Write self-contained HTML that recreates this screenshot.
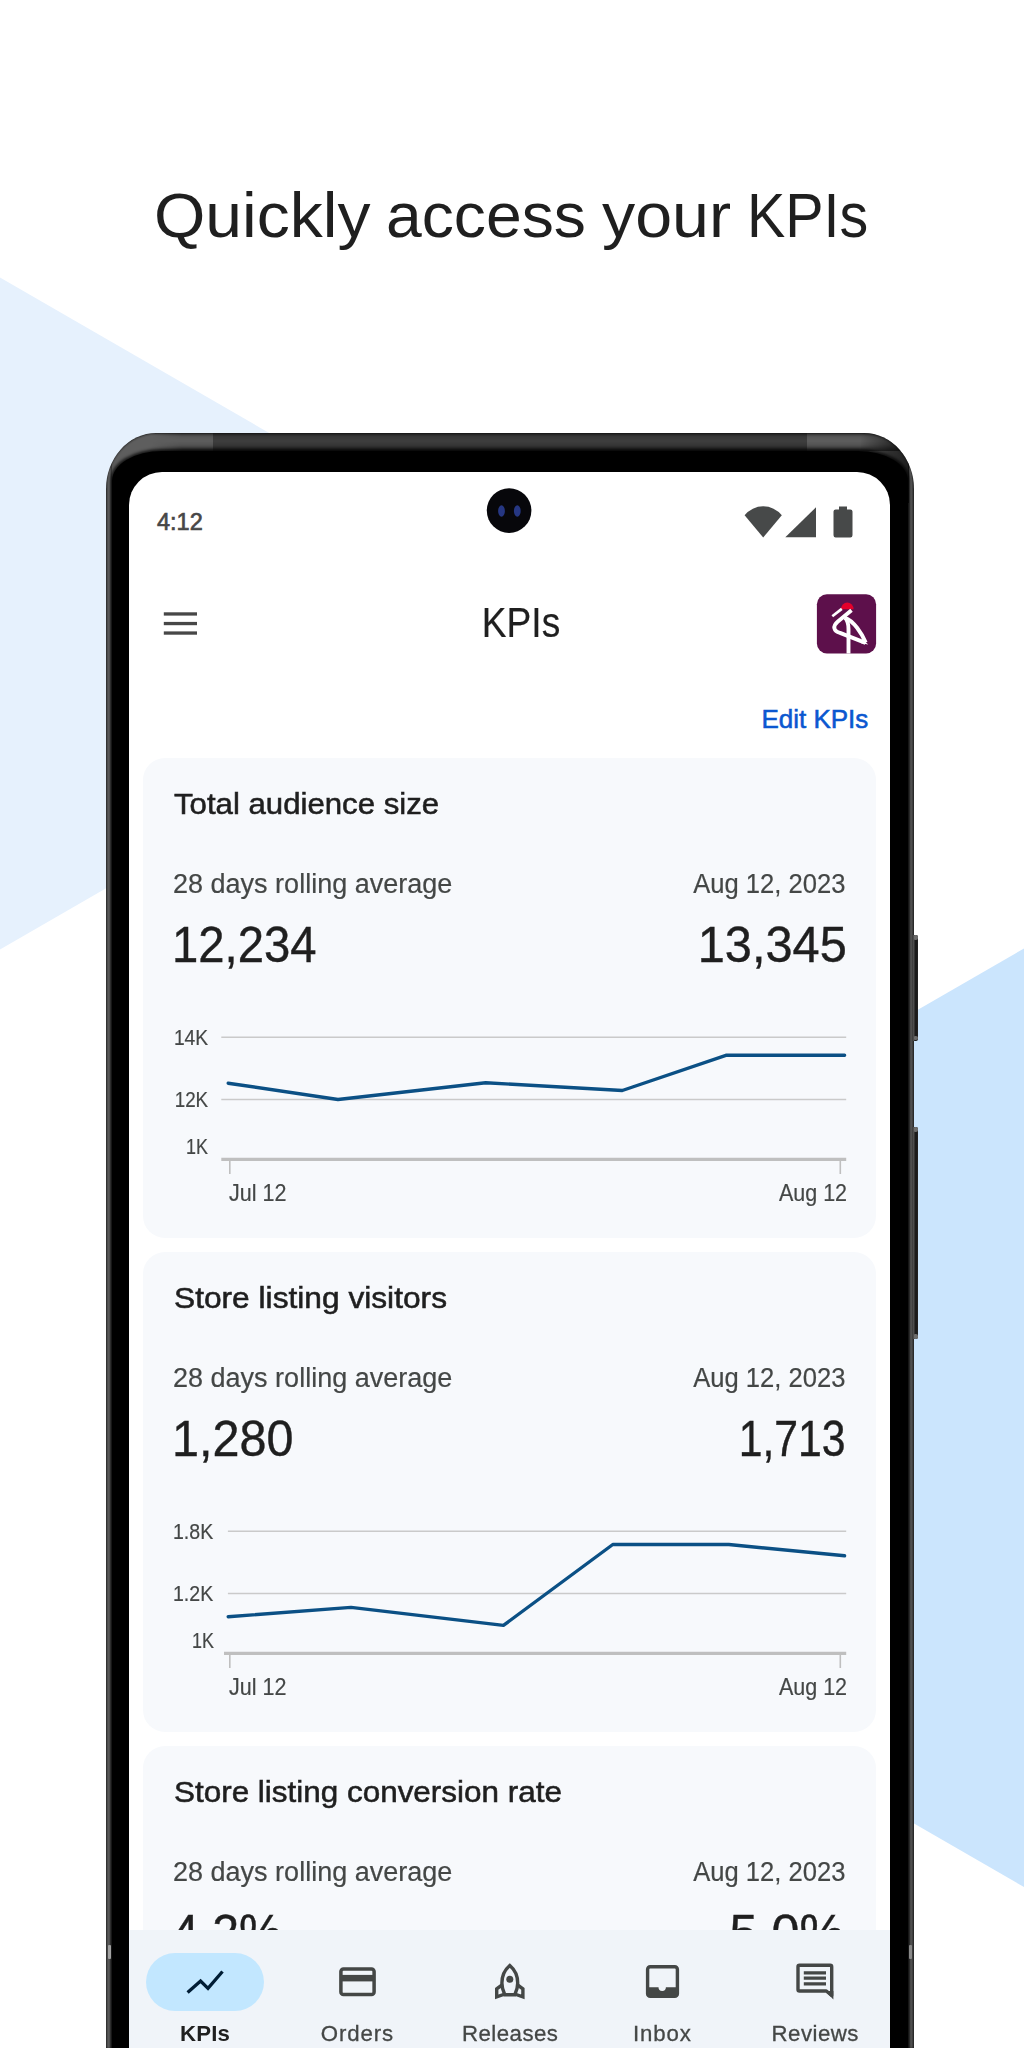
<!DOCTYPE html>
<html lang="en">
<head>
<meta charset="utf-8">
<title>Quickly access your KPIs</title>
<style>
html,body{margin:0;padding:0;}
html{width:1024px;height:2048px;overflow:hidden;}
body{width:1024px;height:2048px;position:relative;overflow:hidden;background:#fff;
  font-family:"Liberation Sans",sans-serif;color:#1f1f1f;}
.abs{position:absolute;}
.t{position:absolute;white-space:nowrap;line-height:1;transform-origin:0 0;}
.tr{position:absolute;white-space:nowrap;line-height:1;transform-origin:100% 0;text-align:right;}
.tc{position:absolute;white-space:nowrap;line-height:1;transform-origin:50% 0;text-align:center;}
#bg{position:absolute;left:0;top:0;}
/* phone */
#frame{position:absolute;left:105.8px;top:433px;width:808px;height:1615px;border-radius:50px 50px 0 0 / 56px 56px 0 0;overflow:hidden;background:linear-gradient(90deg,#3a3a3a 0,#565656 1.5px,#707070 3.2px,#585858 4.6px,#2c2c2c 6.4px,#5e5e5e 6.5px,#5e5e5e 801.5px,#2c2c2c 801.6px,#4a4a4a 803.2px,#686868 804.8px,#4c4c4c 806.2px,#303030 808px);}
#frame .seg{position:absolute;top:0;height:18px;left:107px;width:594px;background:rgba(30,30,30,.5);}
#frame .vg{position:absolute;left:46px;top:0;right:0;height:18px;-webkit-mask-image:linear-gradient(90deg,transparent 0,#000 30px);mask-image:linear-gradient(90deg,transparent 0,#000 30px);background:linear-gradient(180deg,rgba(0,0,0,.4) 0,rgba(0,0,0,.08) 4px,rgba(0,0,0,0) 8px,rgba(0,0,0,.12) 12px,rgba(0,0,0,.5) 17.5px);}
#frame .rc{position:absolute;right:5px;top:0;width:48px;height:70px;background:linear-gradient(100deg,rgba(0,0,0,0) 0,rgba(0,0,0,.5) 55%,rgba(0,0,0,.7) 100%);}
#frame .shade{position:absolute;left:0;top:0;width:100%;height:100%;border-radius:50px 50px 0 0 / 56px 56px 0 0;box-shadow:inset 0 0.5px 2px 0.3px rgba(10,10,10,.7);}
#bezel{position:absolute;left:112px;top:450.6px;width:795.7px;height:1597.4px;border-radius:50px 50px 0 0 / 30px 30px 0 0;background:#000;box-shadow:0 0 3px 1.5px rgba(0,0,0,.75);}
#screen{position:absolute;left:129px;top:472px;width:761.4px;height:1576px;border-radius:33px 33px 0 0;background:#fff;overflow:hidden;}
.btn{position:absolute;left:913.2px;width:4.9px;border-radius:0 2px 2px 0;background:linear-gradient(90deg,#5a5a5a 0,#3a3a3a 25%,#161616 55%,#242424 100%);}
.btn:before,.btn:after{content:"";position:absolute;left:0.5px;width:4.4px;height:4.5px;background:#6c6c6c;border-radius:1px 2px 2px 1px;}
.btn:before{top:0.5px;}
.btn:after{bottom:0.5px;}
.ant{position:absolute;top:1945px;width:3px;height:14px;background:#a2a2a2;border-radius:1px;}
/* cards */
.card{position:absolute;width:732.8px;height:479.4px;border-radius:22px;background:#f7f9fc;}
.sub{color:#444746;}
#nav{position:absolute;width:761.4px;height:118.5px;background:#f0f4f9;}
.lbl{color:#444746;}
.ax{font-size:22px;color:#444746;-webkit-text-stroke:0.2px currentColor;}
.ax2{font-size:24px;color:#444746;-webkit-text-stroke:0.2px currentColor;}
.nl{width:200px;top:2022.7px;font-size:21.8px;color:#444746;letter-spacing:.85px;text-indent:.85px;-webkit-text-stroke:0.3px currentColor;transform:scaleX(1.02);}
.med{-webkit-text-stroke:0.55px currentColor;}
.sub{-webkit-text-stroke:0.2px currentColor;}
.big{-webkit-text-stroke:0.4px currentColor;}
</style>
</head>
<body>
<svg id="bg" width="1024" height="2048" viewBox="0 0 1024 2048">
  <polygon points="0,277.5 582,613.5 0,949.5" fill="#e6f1fd"/>
  <polygon points="1024,948.5 211,1417.7 1024,1887" fill="#cbe5fd"/>
</svg>

<div id="headline" style="position:absolute;left:0;top:183.7px;width:1024px;height:64px;font-size:63.5px;">
  <span class="t" style="left:154.15px;top:0;transform:scaleX(1.04);">Quickly</span>
  <span class="t" style="left:386.25px;top:0;transform:scaleX(1.012);">access</span>
  <span class="t" style="left:602.3px;top:0;transform:scaleX(1.045);">your</span>
  <span class="t" style="left:747.1px;top:0;transform:scaleX(.904);">KPIs</span>
</div>

<div id="frame"><div class="seg"></div><div class="vg"></div><div class="rc"></div><div class="shade"></div></div>
<div id="bezel"></div>
<div class="btn" style="top:934.5px;height:106px;"></div>
<div class="ant" style="left:108.3px;"></div>
<div class="ant" style="left:908.6px;background:#8a8a8a;"></div>
<div class="btn" style="top:1126.5px;height:212.5px;"></div>

<div id="screen">
<div id="pg" style="position:absolute;left:-129px;top:-472px;width:1024px;height:2048px;">
  <!-- status bar -->
  <div class="t med" id="time" style="left:157px;top:510.6px;font-size:23.5px;color:#474747;-webkit-text-stroke:0.65px currentColor;">4:12</div>
  <svg class="abs" style="left:480px;top:482px;" width="58" height="58" viewBox="0 0 58 58">
    <circle cx="29.1" cy="28.6" r="22.3" fill="#07070b"/>
    <ellipse cx="21.5" cy="29" rx="3.4" ry="5.8" fill="#263783" style="filter:blur(.7px)"/>
    <ellipse cx="37.3" cy="29" rx="3.4" ry="5.8" fill="#263783" style="filter:blur(.7px)"/>
  </svg>
  <svg class="abs" id="status" style="left:740px;top:500px;" width="120" height="44" viewBox="740 500 120 44">
    <path d="M744.6 515.2 A24 24 0 0 1 781.8 515.2 L763.2 537.4 Z" fill="#474949"/>
    <path d="M816 507.3 L816 537.3 L785.3 537.3 Z" fill="#474949"/>
    <path d="M839 506.4 h8 v3 h3.3 a2.2 2.2 0 0 1 2.2 2.2 v23.6 a2.2 2.2 0 0 1 -2.2 2.2 h-14.600 a2.200 2.200 0 0 1 -2.200 -2.200 v-23.600 a2.200 2.200 0 0 1 2.200 -2.200 h3.300 z" fill="#474949"/>
  </svg>
  <!-- app bar -->
  <svg class="abs" style="left:160px;top:608px;" width="42" height="32" viewBox="160 608 42 32">
    <rect x="163.800" y="612.300" width="33.200" height="3.300" fill="#474747"/>
    <rect x="163.800" y="621.900" width="33.200" height="3.300" fill="#474747"/>
    <rect x="163.800" y="631.400" width="33.200" height="3.300" fill="#474747"/>
  </svg>
  <div class="tc" id="title" style="left:421px;width:200px;top:602.1px;font-size:42px;transform:scaleX(.884);-webkit-text-stroke:0.2px currentColor;">KPIs</div>
  <svg class="abs" id="appicon" style="left:810px;top:588px;" width="72" height="72" viewBox="810 588 72 72">
    <rect x="816.900" y="594.200" width="59.200" height="59.200" rx="10" fill="#5d104b"/>
    <path d="M841 609.300 A6.300 6.900 0 0 1 853.600 609.300 Z" fill="#e4002b"/>
    <g stroke="#fff" stroke-width="3.900" fill="none" stroke-linejoin="round">
      <path d="M832.300 616.200 L841.800 608.900" stroke-width="2.700"/>
      <path d="M851.500 610.200 L837.600 621.700 C832.300 626.200 833.600 631.300 840 632.900 L865.500 642.900"/>
      <path d="M845 617.800 C853.500 620.500 861.800 633.500 865.700 642.600"/>
      <path d="M848.500 653.400 L848.500 629 C848.500 624 847.500 620.500 845 617.800"/>
    </g>
    <path d="M862.500 639 L868.200 644.600 L861 643.200 Z" fill="#fff"/>
  </svg>
  <div class="tr med" id="edit" style="right:155.700px;top:706.200px;font-size:26px;color:#0b57d0;">Edit KPIs</div>

  <!-- card 1 -->
  <div class="card" style="left:143.400px;top:758.400px;"></div>
  <div class="t med" style="left:174.2px;top:789.4px;font-size:29.8px;transform:scaleX(1.046);">Total audience size</div>
  <div class="t sub" style="left:172.9px;top:870.9px;font-size:26.8px;transform:scaleX(1.008);">28 days rolling average</div>
  <div class="tr sub" style="right:178.2px;top:870.9px;font-size:26.8px;transform:scaleX(.955);">Aug 12, 2023</div>
  <div class="t big" style="left:172.2px;top:919.9px;font-size:50.6px;transform:scaleX(.934);">12,234</div>
  <div class="tr big" style="right:177px;top:919.9px;font-size:50.6px;transform:scaleX(.963);">13,345</div>

  <!-- card 2 -->
  <div class="card" style="left:143.400px;top:1252.400px;"></div>
  <div class="t med" style="left:174.2px;top:1283.4px;font-size:29.8px;transform:scaleX(1.0636);">Store listing visitors</div>
  <div class="t sub" style="left:172.9px;top:1364.9px;font-size:26.8px;transform:scaleX(1.008);">28 days rolling average</div>
  <div class="tr sub" style="right:178.2px;top:1364.9px;font-size:26.8px;transform:scaleX(.955);">Aug 12, 2023</div>
  <div class="t big" style="left:172.2px;top:1413.9px;font-size:50.6px;transform:scaleX(.959);">1,280</div>
  <div class="tr big" style="right:178px;top:1413.9px;font-size:50.6px;transform:scaleX(.8445);">1,713</div>

  <!-- card 3 -->
  <div class="card" style="left:143.400px;top:1746.400px;"></div>
  <div class="t med" style="left:174.2px;top:1777.4px;font-size:29.8px;transform:scaleX(1.055);">Store listing conversion rate</div>
  <div class="t sub" style="left:172.9px;top:1858.9px;font-size:26.8px;transform:scaleX(1.008);">28 days rolling average</div>
  <div class="tr sub" style="right:178.2px;top:1858.9px;font-size:26.8px;transform:scaleX(.955);">Aug 12, 2023</div>
  <div class="t big" style="left:172.2px;top:1907.9px;font-size:50.6px;transform:scaleX(.953);">4.2%</div>
  <div class="tr big" style="right:179.7px;top:1907.9px;font-size:50.6px;transform:scaleX(.996);">5.0%</div>

  <svg class="abs" style="left:140px;top:1020px;" width="740" height="170" viewBox="140 1020 740 170">
    <path d="M221.3 1037.3H846.2M221.3 1099.5H846.2" stroke="#cacaca" stroke-width="1.6" fill="none"/>
    <path d="M221.3 1159.3H846.2" stroke="#bfbfbf" stroke-width="3.2" fill="none"/>
    <path d="M229.8 1160.0V1174.0M840.3 1160.0V1174.0" stroke="#bfbfbf" stroke-width="1.6" fill="none"/>
    <polyline points="228.2,1083.2 338.0,1099.5 485.7,1082.7 622.3,1090.5 725.9,1055.3 844.6,1055.3" stroke="#0b5085" stroke-width="3.4" fill="none" stroke-linejoin="round" stroke-linecap="round"/>
  </svg>
  <div class="tr ax" style="right:816.3px;top:1027.2px;transform:scaleX(.875);">14K</div>
  <div class="tr ax" style="right:816.3px;top:1089.0px;transform:scaleX(.855);">12K</div>
  <div class="tr ax" style="right:816.3px;top:1136.3px;transform:scaleX(.815);">1K</div>
  <div class="t ax2" style="left:229.3px;top:1181.0px;transform:scaleX(.896);">Jul 12</div>
  <div class="tr ax2" style="right:177px;top:1181.0px;transform:scaleX(.896);">Aug 12</div>
  <svg class="abs" style="left:140px;top:1514px;" width="740" height="170" viewBox="140 1514 740 170">
    <path d="M227.9 1531.3H846.2M227.9 1593.5H846.2" stroke="#cacaca" stroke-width="1.6" fill="none"/>
    <path d="M224 1653.3H846.2" stroke="#bfbfbf" stroke-width="3.2" fill="none"/>
    <path d="M229.8 1654.0V1668.0M840.3 1654.0V1668.0" stroke="#bfbfbf" stroke-width="1.6" fill="none"/>
    <polyline points="228.2,1616.7 351.0,1607.4 503.4,1625.4 612.8,1544.5 728.8,1544.5 844.6,1555.8" stroke="#0b5085" stroke-width="3.4" fill="none" stroke-linejoin="round" stroke-linecap="round"/>
  </svg>
  <div class="tr ax" style="right:810.4px;top:1521.2px;transform:scaleX(.89);">1.8K</div>
  <div class="tr ax" style="right:810.4px;top:1583.0px;transform:scaleX(.89);">1.2K</div>
  <div class="tr ax" style="right:810.4px;top:1630.3px;transform:scaleX(.815);">1K</div>
  <div class="t ax2" style="left:229.3px;top:1675.0px;transform:scaleX(.896);">Jul 12</div>
  <div class="tr ax2" style="right:177px;top:1675.0px;transform:scaleX(.896);">Aug 12</div>
  <div id="nav" style="left:129px;top:1929.5px;"></div>
  <div class="abs" style="left:145.9px;top:1952.8px;width:118.1px;height:58.7px;border-radius:30px;background:#c2e7ff;"></div>
  <svg class="abs" style="left:129px;top:1950px;" width="762" height="60" viewBox="129 1950 762 60" fill="none">
    <polyline points="187.6,1992.6 200.6,1981 208,1988.3 222.5,1971.5" stroke="#001d35" stroke-width="3.3" stroke-linecap="butt" stroke-linejoin="miter"/>
    <g stroke="#444746" stroke-width="3.5">
      <rect x="340.9" y="1968.9" width="33.2" height="25.7" rx="2.6"/>
    </g>
    <rect x="340" y="1974.9" width="35" height="6.5" fill="#444746"/>
    <!-- rocket -->
    <g stroke="#444746" stroke-width="3.4" stroke-linejoin="miter">
      <path d="M509.800 1965.500 C504.500 1970 501.900 1976.500 501.900 1983 C501.900 1987.500 503.200 1991.500 504.800 1994.800 L514.800 1994.800 C516.400 1991.500 517.700 1987.500 517.700 1983 C517.700 1976.500 515.100 1970 509.800 1965.500 Z"/>
      <path d="M502 1985 L496.700 1988.800 L496.700 1996.900 L505 1994"/>
      <path d="M517.600 1985 L522.900 1988.800 L522.900 1996.900 L514.600 1994"/>
    </g>
    <circle cx="509.800" cy="1979.300" r="3.500" fill="#444746"/>
    <!-- inbox -->
    <rect x="647.600" y="1966.800" width="29.800" height="29.600" rx="2.600" stroke="#444746" stroke-width="3.400"/>
    <path d="M647.600 1987.300 H658.500 A3.700 3.700 0 0 0 665.900 1987.300 H677.400 V1996 H647.600 Z" fill="#444746"/>
    <!-- reviews -->
    <path d="M799.500 1965.200 H830.200 A1.500 1.500 0 0 1 831.700 1966.700 V1995.400 L826.300 1991 H799.500 A1.500 1.500 0 0 1 798 1989.500 V1966.700 A1.500 1.500 0 0 1 799.500 1965.200 Z" stroke="#444746" stroke-width="3.400" stroke-linejoin="round"/>
    <path d="M825 1991 H833.400 V1999.400 Z" fill="#444746"/>
    <path d="M803.800 1972.800 H826 M803.800 1978.200 H826 M803.800 1983.800 H826" stroke="#444746" stroke-width="3.200"/>
  </svg>
  <div class="tc nl" style="left:105.100px;font-weight:bold;color:#1f1f1f;letter-spacing:.1px;text-indent:.1px;-webkit-text-stroke:0;">KPIs</div>
  <div class="tc nl" style="left:257.400px;">Orders</div>
  <div class="tc nl" style="left:409.700px;letter-spacing:.45px;text-indent:.45px;">Releases</div>
  <div class="tc nl" style="left:562px;">Inbox</div>
  <div class="tc nl" style="left:714.800px;letter-spacing:.45px;text-indent:.45px;">Reviews</div>
</div>
</div>
</body>
</html>
